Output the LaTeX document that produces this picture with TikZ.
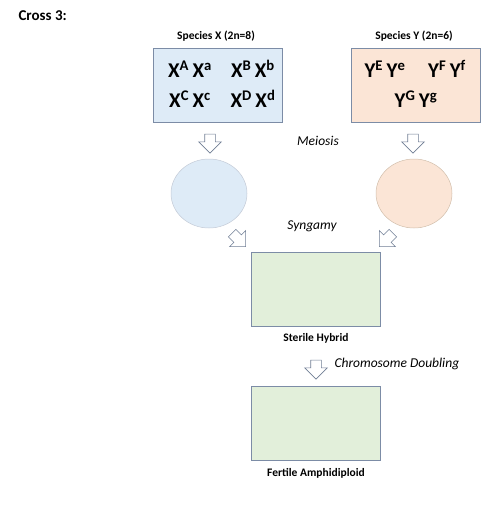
\documentclass[tikz,border=0pt]{standalone}
\usepackage{fontspec}
\setmainfont{Carlito}
\usepackage{xcolor}
\usetikzlibrary{shapes.arrows, shapes.geometric, positioning}
\definecolor{xfill}{HTML}{DEEBF7}
\definecolor{yfill}{HTML}{FBE5D6}
\definecolor{hfill}{HTML}{E2EFDA}
\definecolor{edge}{HTML}{7C8CA6}
\tikzset{
    chrbox/.style={draw=edge, line width=0.8pt, minimum width=129pt, minimum height=74pt},
    cell/.style={ellipse, draw=#1, line width=0.5pt, minimum width=76pt, minimum height=69pt},
    blockarrow/.style={single arrow, draw=edge!90!black, fill=white, line width=0.6pt,
        minimum height=19pt, minimum width=22pt, single arrow head extend=6pt,
        inner sep=5pt, rotate=#1},
    title/.style={font=\bfseries\fontsize{11.5}{13}\selectfont},
    genes/.style={font=\bfseries\fontsize{21}{22}\selectfont},
    step label/.style={font=\itshape\fontsize{13.5}{15}\selectfont}
}
\begin{document}
\begin{tikzpicture}[x=1pt, y=-1pt]
    \useasboundingbox (0, 0) rectangle (487, 512);
    \node[anchor=west, font=\bfseries\fontsize{15}{16}\selectfont] (cross) at (15, 16) {Cross 3:};

    % parents
    \node[chrbox, fill=xfill] (boxX) at (217.5, 85) {};
    \node[chrbox, fill=yfill] (boxY) at (415.5, 85) {};
    \node[title] (titleX) at (216, 36) {Species X (2n=8)};
    \node[title] (titleY) at (414, 36) {Species Y (2n=6)};
    \node[genes] (xab) at (190, 69) {X\textsuperscript{A}\,X\textsuperscript{a}};
    \node[genes] (xbb) at (253, 69) {X\textsuperscript{B}\,X\textsuperscript{b}};
    \node[genes] (xcd) at (190, 99) {X\textsuperscript{C}\,X\textsuperscript{c}};
    \node[genes] (xdd) at (253, 99) {X\textsuperscript{D}\,X\textsuperscript{d}};
    \node[genes] (yee) at (385, 69) {Y\textsuperscript{E}\,Y\textsuperscript{e}};
    \node[genes] (yff) at (447, 69) {Y\textsuperscript{F}\,Y\textsuperscript{f}};
    \node[genes] (ygg) at (416, 99) {Y\textsuperscript{G}\,Y\textsuperscript{g}};

    % meiosis
    \node[blockarrow=-90] (arrX) at (210, 141) {};
    \node[blockarrow=-90] (arrY) at (413, 141) {};
    \node[step label] (meiosis) at (318, 141) {Meiosis};

    % gametes
    \node[cell=edge!45, fill=xfill] (gamX) at (209, 193.5) {};
    \node[cell=orange!30!gray!50, fill=yfill] (gamY) at (414, 193.5) {};

    % syngamy
    \node[blockarrow=-45] (synX) at (237, 238) {};
    \node[blockarrow=-135] (synY) at (388, 238) {};
    \node[step label] (syngamy) at (312, 226) {Syngamy};

    % hybrid
    \node[chrbox, fill=hfill] (hybrid) at (315.5, 289) {};
    \node[title] (hybridlbl) at (316, 338) {Sterile Hybrid};
    \node[blockarrow=-90] (arrH) at (316, 367) {};
    \node[step label, anchor=west] (doubling) at (331, 364) {Chromosome Doubling};

    % amphidiploid
    \node[chrbox, fill=hfill] (fertile) at (315.5, 423.5) {};
    \node[title] (fertilelbl) at (316, 473) {Fertile Amphidiploid};
\end{tikzpicture}
\end{document}
